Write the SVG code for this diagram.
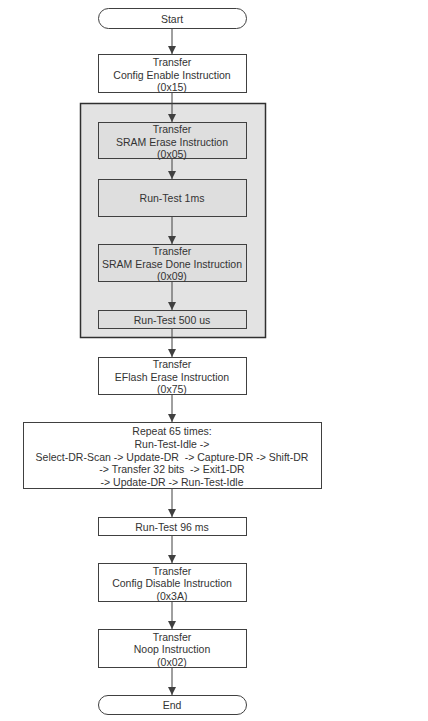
<svg xmlns="http://www.w3.org/2000/svg" width="428" height="721" viewBox="0 0 428 721">
<defs>
<style>
.box{fill:#fff;stroke:#404040;stroke-width:1}
.gbox{fill:#dedede;stroke:#404040;stroke-width:1}
.cont{fill:#e3e3e3;stroke:#303030;stroke-width:1.5}
.t{font-family:"Liberation Sans",Arial,sans-serif;font-size:10.5px;fill:#333;text-anchor:middle;white-space:pre}
.c{stroke:#404040;stroke-width:1;fill:none}
</style>
<marker id="ah" viewBox="0 0 8 10" refX="8" refY="5" markerWidth="8" markerHeight="10" markerUnits="userSpaceOnUse" orient="auto">
<path d="M0,1 L8,5 L0,9 Z" fill="#404040"/>
</marker>
</defs>
<rect width="428" height="721" fill="#fff"/>
<g id="container"><rect class="cont" x="80.5" y="103.5" width="185" height="234"/></g>
<g id="connectors">
<line class="c" x1="172" y1="28" x2="172" y2="54" marker-end="url(#ah)"/>
<line class="c" x1="172" y1="92" x2="172" y2="122" marker-end="url(#ah)"/>
<line class="c" x1="172" y1="158" x2="172" y2="179" marker-end="url(#ah)"/>
<line class="c" x1="172" y1="216" x2="172" y2="244" marker-end="url(#ah)"/>
<line class="c" x1="172" y1="281" x2="172" y2="310" marker-end="url(#ah)"/>
<line class="c" x1="172" y1="328" x2="172" y2="357" marker-end="url(#ah)"/>
<line class="c" x1="172" y1="394" x2="172" y2="422" marker-end="url(#ah)"/>
<line class="c" x1="172" y1="488" x2="172" y2="517" marker-end="url(#ah)"/>
<line class="c" x1="172" y1="535" x2="172" y2="563" marker-end="url(#ah)"/>
<line class="c" x1="172" y1="601" x2="172" y2="629" marker-end="url(#ah)"/>
<line class="c" x1="172" y1="667" x2="172" y2="695" marker-end="url(#ah)"/>
</g>
<g id="start"><rect class="box" x="98.5" y="8.5" width="148" height="20" rx="10" ry="10"/><text class="t" x="172" y="22.5">Start</text></g>
<g id="config-enable"><rect class="box" x="98.5" y="54.5" width="148" height="38"/>
<text class="t" x="172" y="66">Transfer</text><text class="t" x="172" y="78.5">Config Enable Instruction</text><text class="t" x="172" y="91">(0x15)</text></g>
<g id="sram-erase"><rect class="gbox" x="98.5" y="122.5" width="148" height="36"/>
<text class="t" x="172" y="133">Transfer</text><text class="t" x="172" y="145.5">SRAM Erase Instruction</text><text class="t" x="172" y="158">(0x05)</text></g>
<g id="runtest-1ms"><rect class="gbox" x="98.5" y="179.5" width="148" height="37"/><text class="t" x="172" y="202">Run-Test 1ms</text></g>
<g id="sram-erase-done"><rect class="gbox" x="98.5" y="244.5" width="148" height="37"/>
<text class="t" x="172" y="255">Transfer</text><text class="t" x="172" y="267.5">SRAM Erase Done Instruction</text><text class="t" x="172" y="280">(0x09)</text></g>
<g id="runtest-500us"><rect class="gbox" x="98.5" y="310.5" width="148" height="18"/><text class="t" x="172" y="323.5">Run-Test 500 us</text></g>
<g id="eflash-erase"><rect class="box" x="98.5" y="357.5" width="148" height="37"/>
<text class="t" x="172" y="368">Transfer</text><text class="t" x="172" y="380.5">EFlash Erase Instruction</text><text class="t" x="172" y="393">(0x75)</text></g>
<g id="repeat"><rect class="box" x="23.5" y="422.5" width="298" height="66"/>
<text class="t" x="172" y="435">Repeat 65 times:</text>
<text class="t" x="172" y="447.5">Run-Test-Idle -&gt;</text>
<text class="t" x="172" y="460.5">Select-DR-Scan -&gt; Update-DR  -&gt; Capture-DR -&gt; Shift-DR</text>
<text class="t" x="172" y="473">-&gt; Transfer 32 bits  -&gt; Exit1-DR</text>
<text class="t" x="172" y="485.5">-&gt; Update-DR -&gt; Run-Test-Idle</text></g>
<g id="runtest-96ms"><rect class="box" x="98.5" y="517.5" width="148" height="18"/><text class="t" x="172" y="530.5">Run-Test 96 ms</text></g>
<g id="config-disable"><rect class="box" x="98.5" y="563.5" width="148" height="38"/>
<text class="t" x="172" y="574.5">Transfer</text><text class="t" x="172" y="587">Config Disable Instruction</text><text class="t" x="172" y="599.5">(0x3A)</text></g>
<g id="noop"><rect class="box" x="98.5" y="629.5" width="148" height="38"/>
<text class="t" x="172" y="640.5">Transfer</text><text class="t" x="172" y="653">Noop Instruction</text><text class="t" x="172" y="665.5">(0x02)</text></g>
<g id="end"><rect class="box" x="98.5" y="695.5" width="148" height="19" rx="9.5" ry="9.5"/><text class="t" x="172" y="709">End</text></g>
</svg>
